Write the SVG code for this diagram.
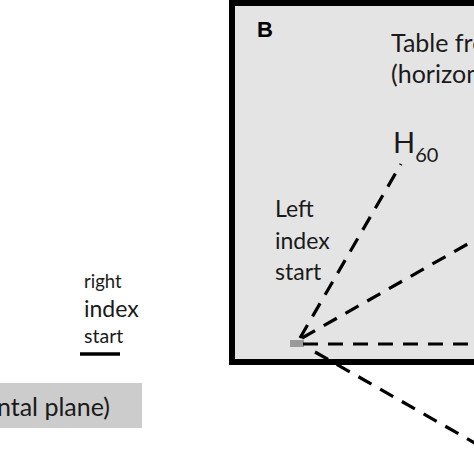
<svg xmlns="http://www.w3.org/2000/svg" width="474" height="474" viewBox="0 0 474 474">
<style>
.t{font-family:Lato,"Open Sans","Liberation Sans",sans-serif;fill:#1a1a1a}
.d{stroke:#000;stroke-width:3.2;stroke-dasharray:15 10;fill:none}
</style>
<rect width="474" height="474" fill="#fff"/>
<g id="panelA">
  <rect x="-5" y="383" width="147" height="45" fill="#cccccc"/>
  <text class="t" x="110" y="416" font-size="25" text-anchor="end">ntal plane)</text>
  <text class="t" x="84" y="288" font-size="18.5">right</text>
  <text class="t" x="84" y="317" font-size="23">index</text>
  <text class="t" x="84" y="343" font-size="19.5">start</text>
  <line x1="80" y1="354" x2="120" y2="354" stroke="#000" stroke-width="3.5"/>
</g>
<g id="panelB">
  <rect x="232" y="3" width="260" height="359" fill="#e4e4e4" stroke="#000" stroke-width="6"/>
  <text x="257" y="37" font-family="Liberation Sans,Arial,sans-serif" font-weight="bold" font-size="22" fill="#000">B</text>
  <text class="t" x="391" y="52" font-size="25">Table from</text>
  <text class="t" x="391" y="83" font-size="25">(horizontal</text>
  <text class="t" x="275" y="217" font-size="23">Left</text>
  <text class="t" x="275" y="249" font-size="23">index</text>
  <text class="t" x="275" y="280" font-size="23">start</text>
</g>
<g id="H60">
  <text class="t" x="393" y="153" font-size="29">H<tspan font-size="20" dy="9">60</tspan></text>
</g>
<g id="start">
  <rect x="290" y="340" width="14" height="7" fill="#9a9a9a"/>
</g>
<g id="connectors">
  <line class="d" x1="300" y1="338" x2="401" y2="164"/>
  <line class="d" x1="302" y1="338" x2="480" y2="237"/>
  <line class="d" x1="303" y1="344" x2="474" y2="344"/>
  <line class="d" x1="315" y1="352" x2="480" y2="446"/>
</g>
</svg>
